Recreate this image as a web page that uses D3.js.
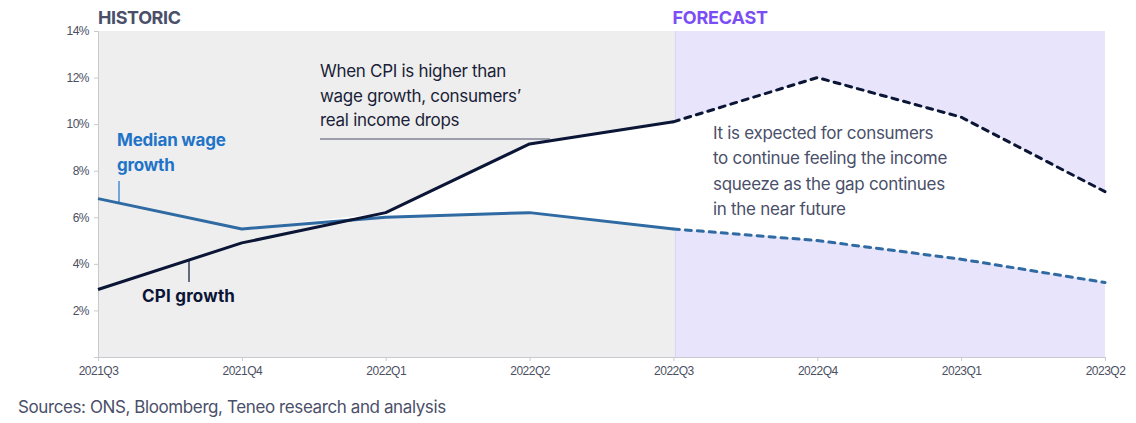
<!DOCTYPE html>
<html>
<head>
<meta charset="utf-8">
<script src="https://cdn.jsdelivr.net/npm/d3@7"></script>
<style>
  body { margin: 0; background: #fff; }
  svg { font-family: Inter, "Noto Sans", sans-serif; }
</style>
</head>
<body>
<svg width="1136" height="423"></svg>
<script>
const quarters = ["2021Q3", "2021Q4", "2022Q1", "2022Q2", "2022Q3", "2022Q4", "2023Q1", "2023Q2"];
const cpi  = [2.9, 4.9, 6.2, 9.15, 10.1, 12.0, 10.3, 7.1];
const wage = [6.8, 5.5, 6.0, 6.2, 5.5, 5.0, 4.2, 3.2];
const yTicks = [2, 4, 6, 8, 10, 12, 14];
const forecastStart = 4; // index of 2022Q3

const margin = {top: 31, right: 31, bottom: 66, left: 98};
const width = 1136 - margin.left - margin.right;
const height = 423 - margin.top - margin.bottom;

const svg = d3.select("svg")
  .append("g")
    .attr("transform", "translate(" + margin.left + "," + margin.top + ")");

const x = d3.scalePoint().domain(quarters).range([0, width]);
const y = d3.scaleLinear().domain([0, 14]).range([height, 0]);

const rows = quarters.map((q, i) => ({q: q, i: i, cpi: cpi[i], wage: wage[i]}));

// backgrounds
const xf = x(quarters[forecastStart]) + 2;
svg.append("rect").attr("x", 0).attr("y", 0).attr("width", xf).attr("height", height).attr("fill", "#eeeeee");
svg.append("rect").attr("x", xf).attr("y", 0).attr("width", width - xf).attr("height", height).attr("fill", "#e8e4fc");
svg.append("line").attr("x1", xf).attr("x2", xf).attr("y1", 0).attr("y2", height)
  .attr("stroke", "#d9d3f3").attr("stroke-width", 1);

// white gap where CPI is above wages
const gap = d3.area()
  .x(d => x(d.q))
  .y0(d => y(d.wage))
  .y1(d => y(Math.max(d.cpi, d.wage)));
svg.append("path").datum(rows).attr("d", gap).attr("fill", "#ffffff");

// axes
const yAxis = svg.append("g")
  .call(d3.axisLeft(y).tickValues(yTicks).tickFormat(d => d + "%").tickSize(4).tickPadding(5));
const xAxis = svg.append("g")
  .attr("transform", "translate(0," + height + ")")
  .call(d3.axisBottom(x).tickSize(4).tickPadding(5));
[yAxis, xAxis].forEach(a => {
  a.select(".domain").attr("stroke", "#c9c9cf");
  a.selectAll(".tick line").attr("stroke", "#c9c9cf");
  a.selectAll("text").attr("fill", "#4b4f63").style("font-size", "12px")
    .attr("letter-spacing", "-0.5");
});

// lines
const line = key => d3.line().x(d => x(d.q)).y(d => y(d[key]));
const series = [
  {key: "wage", color: "#2f6aa3"},
  {key: "cpi", color: "#0b1536"}
];
series.forEach(s => {
  svg.append("path").datum(rows.slice(0, forecastStart + 1))
    .attr("d", line(s.key)).attr("fill", "none")
    .attr("stroke", s.color).attr("stroke-width", 3).attr("stroke-linejoin", "round");
  svg.append("path").datum(rows.slice(forecastStart))
    .attr("d", line(s.key)).attr("fill", "none")
    .attr("stroke", s.color).attr("stroke-width", 3)
    .attr("stroke-dasharray", "6,6").attr("stroke-linecap", "round");
});

// section headers
svg.append("text").attr("x", 0).attr("y", -7).text("HISTORIC")
  .attr("fill", "#4a4f6a").style("font-size", "18px").style("font-weight", 700).attr("letter-spacing", "-0.4");
svg.append("text").attr("x", xf - 3).attr("y", -7).text("FORECAST")
  .attr("fill", "#7a4df5").style("font-size", "18px").style("font-weight", 700).attr("letter-spacing", "-0.2");

// series labels
const wageLabel = svg.append("text").attr("fill", "#1f74c8").style("font-size", "17px").style("font-weight", 700)
  .attr("letter-spacing", "-0.2");
wageLabel.append("tspan").attr("x", 19).attr("y", 115).text("Median wage");
wageLabel.append("tspan").attr("x", 19).attr("y", 140).text("growth");
svg.append("line").attr("x1", 21).attr("x2", 21).attr("y1", 150).attr("y2", 171)
  .attr("stroke", "#1f74c8").attr("stroke-width", 1.2);

svg.append("text").attr("x", 44).attr("y", 271).text("CPI growth")
  .attr("fill", "#0b1536").style("font-size", "17px").style("font-weight", 700).attr("letter-spacing", "0.2");
svg.append("line").attr("x1", 91).attr("x2", 91).attr("y1", 229).attr("y2", 251)
  .attr("stroke", "#0b1536").attr("stroke-width", 1.2);

// annotations
const note1 = svg.append("text").attr("fill", "#1a1e38").style("font-size", "17px").attr("letter-spacing", "-0.3");
["When CPI is higher than", "wage growth, consumers\u2019", "real income drops"].forEach((t, i) => {
  note1.append("tspan").attr("x", 222).attr("y", 46 + i * 24.5).text(t);
});
svg.append("line").attr("x1", 222).attr("x2", 452).attr("y1", 108).attr("y2", 108)
  .attr("stroke", "#4a4f6a").attr("stroke-width", 1);

const note2 = svg.append("text").attr("fill", "#4a4f6a").style("font-size", "17px").attr("letter-spacing", "-0.3");
["It is expected for consumers", "to continue feeling the income", "squeeze as the gap continues", "in the near future"].forEach((t, i) => {
  note2.append("tspan").attr("x", 615).attr("y", 108 + i * 25.3).text(t);
});

// source
d3.select("svg").append("text").attr("x", 18).attr("y", 413)
  .text("Sources: ONS, Bloomberg, Teneo research and analysis")
  .attr("fill", "#4a4f6a").style("font-size", "17px").attr("letter-spacing", "-0.4");
</script>
</body>
</html>
